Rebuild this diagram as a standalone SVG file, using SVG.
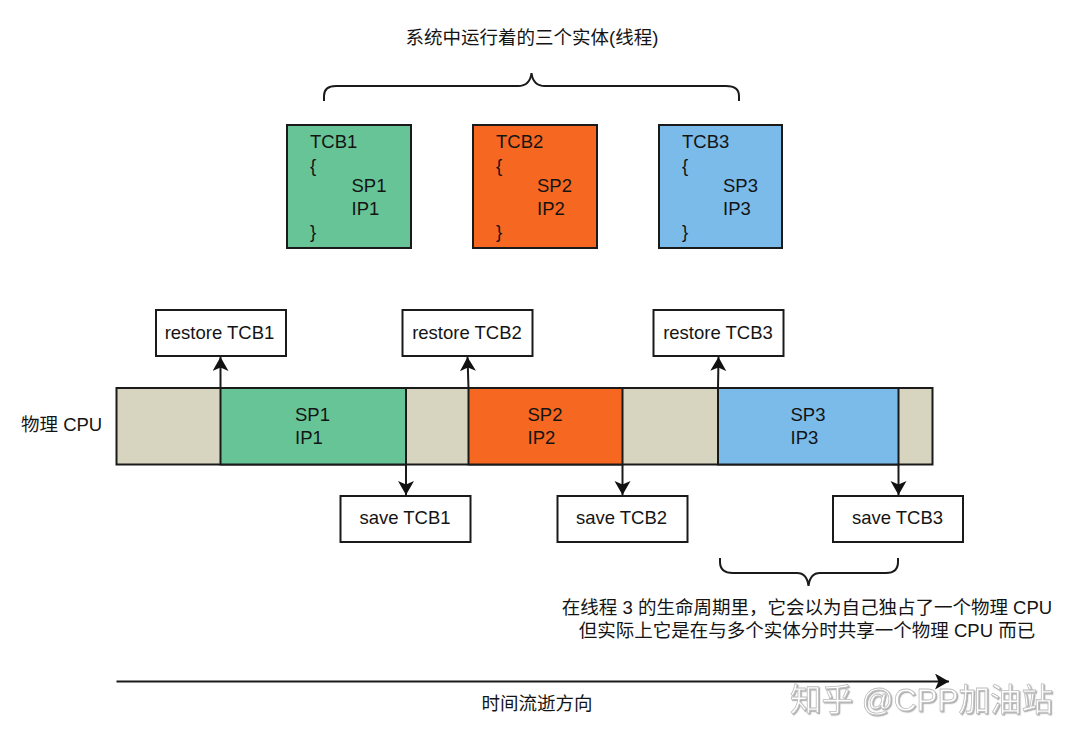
<svg xmlns="http://www.w3.org/2000/svg" width="1080" height="744" viewBox="0 0 1080 744">
<style>
text{font-family:"Liberation Sans","Noto Sans CJK SC",sans-serif;font-size:18.5px;fill:#141414}
.c{text-anchor:middle}
.b{stroke:#1a1a1a;stroke-width:2;fill:#fff}
.g{fill:#67c497}.o{fill:#f66721}.l{fill:#7abbea}.t{fill:#d7d4bf}
.w{stroke:#1a1a1a;stroke-width:2}
.ln{fill:none;stroke:#1a1a1a;stroke-width:2}
.wm{font-size:31.500px;fill:#fff;stroke:#bdbdbd;stroke-width:0.800;filter:url(#s)}
</style>
<defs>
<marker id="a" markerUnits="userSpaceOnUse" markerWidth="18" markerHeight="18" refX="14" refY="8" orient="auto"><path d="M0 0L14 8L0 16L3.500 8Z" fill="#111"/></marker>
<filter id="s" x="-5%" y="-20%" width="110%" height="140%"><feDropShadow dx="1.200" dy="1.200" stdDeviation="0.600" flood-color="#b0b0b0"/></filter>
</defs>
<rect width="1080" height="744" fill="#fff"/>
<g id="title"><text class="c" x="532" y="44">系统中运行着的三个实体(线程)</text></g>
<g id="brace-top"><path class="ln" d="M324 101V96Q324 86 336 86H518Q530 86 531.500 73Q533 86 545 86H726Q739 86 739 96V101"/></g>
<g id="tcb1"><rect class="w g" x="287" y="125" width="124" height="123"/><text x="310" y="148">TCB1</text><text x="310" y="172">{</text><text x="351.500" y="192">SP1</text><text x="351.500" y="215">IP1</text><text x="310" y="238">}</text></g>
<g id="tcb2"><rect class="w o" x="473" y="125" width="124" height="123"/><text x="496" y="148">TCB2</text><text x="496" y="172">{</text><text x="537" y="192">SP2</text><text x="537" y="215">IP2</text><text x="496" y="238">}</text></g>
<g id="tcb3"><rect class="w l" x="659" y="125" width="123" height="123"/><text x="682" y="148">TCB3</text><text x="682" y="172">{</text><text x="723" y="192">SP3</text><text x="723" y="215">IP3</text><text x="682" y="238">}</text></g>
<g id="cpu-label"><text x="21" y="431">物理 CPU</text></g>
<g id="cpu-bar"><rect class="w t" x="116.500" y="388" width="816" height="76.500"/></g>
<g id="seg1"><rect class="w g" x="220.500" y="388" width="185.500" height="76.500"/><text x="295" y="421">SP1</text><text x="295" y="444">IP1</text></g>
<g id="seg2"><rect class="w o" x="468.500" y="388" width="154" height="76.500"/><text x="527.500" y="421">SP2</text><text x="527.500" y="444">IP2</text></g>
<g id="seg3"><rect class="w l" x="718" y="388" width="180.500" height="76.500"/><text x="790.500" y="421">SP3</text><text x="790.500" y="444">IP3</text></g>
<g id="restore1"><rect class="b" x="156" y="310" width="130" height="46"/><text class="c" x="219.500" y="339">restore TCB1</text></g>
<g id="restore2"><rect class="b" x="402.500" y="310" width="130" height="46"/><text class="c" x="467" y="339">restore TCB2</text></g>
<g id="restore3"><rect class="b" x="653.500" y="310" width="130" height="46"/><text class="c" x="718" y="339">restore TCB3</text></g>
<g id="save1"><rect class="b" x="340.500" y="496" width="130" height="46"/><text class="c" x="405" y="524">save TCB1</text></g>
<g id="save2"><rect class="b" x="557.500" y="496" width="130" height="46"/><text class="c" x="621.500" y="524">save TCB2</text></g>
<g id="save3"><rect class="b" x="833" y="496" width="130" height="46"/><text class="c" x="897.500" y="524">save TCB3</text></g>
<g id="connectors">
<path class="ln" marker-end="url(#a)" d="M220.500 388V357"/>
<path class="ln" marker-end="url(#a)" d="M468.500 388L467.500 357"/>
<path class="ln" marker-end="url(#a)" d="M718 388L718.500 357"/>
<path class="ln" marker-end="url(#a)" d="M406 464.500V495"/>
<path class="ln" marker-end="url(#a)" d="M622.500 464.500V495"/>
<path class="ln" marker-end="url(#a)" d="M898.500 464.500V495"/>
<path class="ln" marker-end="url(#a)" d="M116.500 681.500H949"/>
</g>
<g id="brace-bottom"><path class="ln" d="M720 558V562Q720 573 733 573H797Q807 573 808.500 586Q810 573 820 573H886Q898 573 898 562V558"/></g>
<g id="note"><text class="c" x="807" y="614">在线程 3 的生命周期里，它会以为自己独占了一个物理 CPU</text><text class="c" x="807" y="637">但实际上它是在与多个实体分时共享一个物理 CPU 而已</text></g>
<g id="axis-label"><text class="c" x="537" y="710">时间流逝方向</text></g>
<g id="watermark"><text class="wm" x="790" y="711">知乎 @CPP加油站</text></g>
</svg>
